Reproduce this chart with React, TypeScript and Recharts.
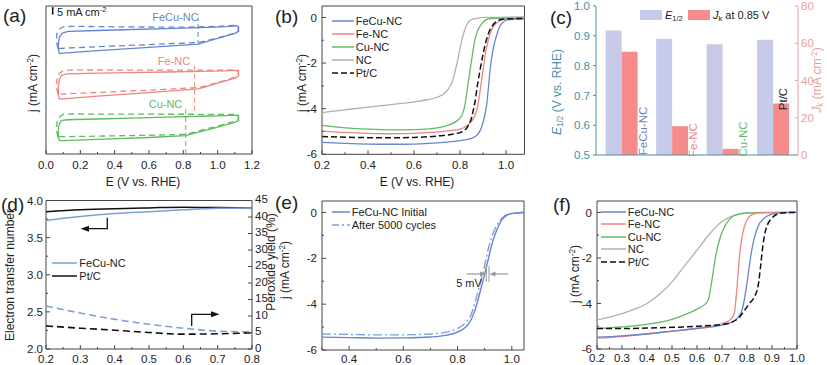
import React from "react";
import {
  LineChart,
  Line,
  XAxis,
  YAxis,
  ReferenceLine,
  ReferenceArea,
  BarChart,
  Bar,
} from "recharts";

const W = 827;
const H = 365;
const FONT = '"Liberation Sans", Arial, Helvetica, sans-serif';
const INK = "#222";
const FRAME = "#444";
const BLUE = "#6586cf";
const LIGHT_BLUE = "#7f9fda";
const RED = "#ec8682";
const GREEN = "#62ba62";
const GRAY = "#b0b0b0";
const TEAL = "#4a8fa3";
const PINK = "#e8a09c";
const LAVENDER = "#c8cae9";
const SALMON = "#f58b8b";

// ---- (a) CV loops, E (V) vs j (offset, mA cm-2 units) ----
const aFeCu = [[0.078, 88.8], [0.072, 93], [0.073, 99], [0.08, 104], [0.095, 107], [0.13, 108.5], [0.3, 109.3], [0.5, 110.2], [0.7, 111], [0.9, 111.8], [1.05, 112.8], [1.11, 113.5], [1.122, 112.5], [1.122, 108.5], [1.1, 106.8], [1.04, 104.2], [0.98, 101.5], [0.93, 99.2], [0.886, 97.3], [0.6, 94.3], [0.3, 91.5], [0.1, 89.2], [0.078, 88.8]];
const aFeCuDash = [[0.07, 93.5], [0.062, 99], [0.063, 106], [0.075, 110.5], [0.1, 112.6], [0.15, 113], [0.4, 112.6], [0.7, 112.3], [0.88, 112.4], [1.0, 113], [1.1, 113.8], [1.12, 113.3], [1.12, 109], [1.1, 107], [1.04, 104.5], [0.98, 102], [0.93, 100], [0.89, 98.8], [0.6, 96.8], [0.3, 95], [0.1, 93.6], [0.07, 93.5]];
const aFe = [[0.078, 48.5], [0.072, 52], [0.072, 60], [0.078, 66], [0.09, 69.5], [0.12, 71], [0.3, 71.6], [0.5, 72.1], [0.7, 72.6], [0.9, 73.1], [1.05, 73.6], [1.11, 74], [1.122, 73], [1.122, 69], [1.1, 67.2], [1.04, 64.5], [0.98, 61.8], [0.93, 59.5], [0.885, 57.6], [0.6, 54.3], [0.3, 51.2], [0.1, 48.8], [0.078, 48.5]];
const aFeDash = [[0.07, 53], [0.062, 58], [0.063, 65], [0.075, 71], [0.1, 73.8], [0.15, 74.4], [0.4, 74.3], [0.7, 74.2], [0.88, 74.2], [1.0, 74.3], [1.1, 74.5], [1.12, 74], [1.12, 70], [1.1, 68], [1.04, 65], [0.98, 62.5], [0.93, 60.3], [0.885, 58.8], [0.6, 56.5], [0.3, 54.5], [0.1, 53.1], [0.07, 53]];
const aCu = [[0.078, 11.8], [0.072, 15], [0.072, 22], [0.078, 27], [0.09, 29.5], [0.12, 30.3], [0.3, 31], [0.5, 31.8], [0.7, 32.6], [0.9, 33.4], [1.05, 34], [1.11, 34.4], [1.122, 33.5], [1.122, 29.5], [1.1, 28], [1.04, 25.5], [0.97, 22.5], [0.9, 19.8], [0.85, 17.8], [0.814, 16.3], [0.6, 14.6], [0.3, 12.9], [0.1, 11.9], [0.078, 11.8]];
const aCuDash = [[0.07, 15.3], [0.062, 20], [0.063, 27], [0.075, 32.5], [0.1, 35], [0.15, 35.4], [0.4, 35.3], [0.7, 35.2], [0.85, 35.2], [1.0, 35], [1.1, 35], [1.12, 34.5], [1.12, 30.5], [1.1, 29], [1.04, 26.5], [0.97, 23.5], [0.9, 20.8], [0.85, 18.8], [0.814, 17.4], [0.6, 16.6], [0.3, 15.8], [0.1, 15.3], [0.07, 15.3]];

// ---- (b) LSV in 0.1 M KOH ----
const bFeCu = [[0.2, -5.48], [0.3, -5.52], [0.4, -5.55], [0.5, -5.56], [0.6, -5.55], [0.7, -5.5], [0.8, -5.4], [0.85, -5.3], [0.875, -5.15], [0.89, -4.9], [0.9, -4.6], [0.91, -4.15], [0.916, -3.8], [0.923, -3.1], [0.93, -2.34], [0.94, -1.6], [0.95, -1.1], [0.957, -0.85], [0.97, -0.45], [0.988, -0.2], [1.0, -0.13], [1.03, -0.08], [1.08, -0.06]];
const bFe = [[0.2, -4.98], [0.3, -5.04], [0.4, -5.08], [0.5, -5.1], [0.6, -5.08], [0.7, -5.02], [0.8, -4.9], [0.83, -4.75], [0.85, -4.55], [0.865, -4.3], [0.875, -3.95], [0.88, -3.7], [0.89, -3.0], [0.9, -2.3], [0.91, -1.6], [0.92, -1.1], [0.935, -0.6], [0.95, -0.33], [0.97, -0.16], [0.99, -0.09], [1.08, -0.05]];
const bCu = [[0.2, -4.73], [0.3, -4.84], [0.4, -4.9], [0.5, -4.93], [0.6, -4.92], [0.7, -4.84], [0.75, -4.72], [0.78, -4.58], [0.8, -4.4], [0.81, -4.25], [0.822, -3.8], [0.832, -3.1], [0.843, -2.34], [0.855, -1.55], [0.865, -0.95], [0.878, -0.55], [0.894, -0.28], [0.91, -0.12], [0.93, -0.05], [1.08, -0.02]];
const bNC = [[0.2, -4.17], [0.3, -4.05], [0.4, -3.93], [0.5, -3.82], [0.6, -3.7], [0.65, -3.62], [0.7, -3.5], [0.73, -3.35], [0.75, -3.12], [0.765, -2.85], [0.78, -2.3], [0.79, -1.85], [0.8, -1.35], [0.81, -0.9], [0.82, -0.55], [0.83, -0.3], [0.85, -0.1], [0.88, -0.03], [0.9, 0], [1.08, 0.02]];
const bPtC = [[0.2, -5.22], [0.3, -5.25], [0.4, -5.27], [0.5, -5.28], [0.6, -5.26], [0.7, -5.2], [0.8, -5.05], [0.82, -4.95], [0.835, -4.75], [0.85, -4.4], [0.86, -3.95], [0.865, -3.7], [0.875, -3.0], [0.887, -2.3], [0.9, -1.6], [0.91, -1.15], [0.92, -0.8], [0.935, -0.45], [0.95, -0.25], [0.975, -0.1], [1.0, -0.06], [1.08, -0.05]];

// ---- (c) bars ----
const cCats = ["FeCu-NC", "Fe-NC", "Cu-NC", "Pt/C"];
const cE12 = [0.918, 0.89, 0.872, 0.887];
const cJk = [55.5, 15.5, 3.3, 27.6];

// ---- (d) RRDE ----
const dFeCuN = [[0.2, 3.73], [0.25, 3.76], [0.3, 3.785], [0.4, 3.825], [0.5, 3.85], [0.6, 3.875], [0.7, 3.895], [0.8, 3.9]];
const dPtCN = [[0.2, 3.85], [0.3, 3.875], [0.4, 3.89], [0.5, 3.9], [0.6, 3.91], [0.7, 3.905], [0.8, 3.9]];
const dFeCuH2O2 = [[0.2, 13], [0.3, 10.9], [0.4, 9], [0.5, 7.5], [0.6, 6.3], [0.65, 5.8], [0.7, 5.4], [0.8, 5.2]];
const dPtCH2O2 = [[0.2, 7], [0.3, 6.3], [0.4, 5.7], [0.5, 5.0], [0.6, 4.5], [0.7, 4.6], [0.8, 4.9]];

// ---- (e) stability ----
const eInitial = [[0.3, -5.44], [0.4, -5.46], [0.5, -5.48], [0.6, -5.47], [0.7, -5.43], [0.76, -5.35], [0.8, -5.22], [0.83, -5.0], [0.85, -4.68], [0.87, -4.05], [0.88, -3.6], [0.89, -3.15], [0.9, -2.7], [0.91, -2.2], [0.92, -1.7], [0.93, -1.25], [0.945, -0.75], [0.96, -0.38], [0.98, -0.14], [1.0, -0.04], [1.045, 0]];
const eAfter = [[0.3, -5.3], [0.4, -5.32], [0.5, -5.34], [0.6, -5.34], [0.7, -5.3], [0.76, -5.22], [0.8, -5.06], [0.83, -4.8], [0.85, -4.45], [0.865, -3.9], [0.88, -3.25], [0.89, -2.8], [0.9, -2.3], [0.91, -1.75], [0.92, -1.3], [0.935, -0.8], [0.95, -0.45], [0.97, -0.18], [0.99, -0.07], [1.045, 0]];

// ---- (f) LSV in acid ----
const fFeCu = [[0.2, -5.48], [0.3, -5.42], [0.4, -5.33], [0.5, -5.22], [0.6, -5.1], [0.7, -4.95], [0.74, -4.82], [0.765, -4.6], [0.78, -4.3], [0.79, -3.8], [0.8, -3.1], [0.81, -2.3], [0.82, -1.6], [0.83, -1.1], [0.845, -0.6], [0.87, -0.25], [0.9, -0.08], [0.93, -0.02], [1.0, 0]];
const fFe = [[0.2, -5.52], [0.3, -5.45], [0.4, -5.35], [0.5, -5.22], [0.6, -5.08], [0.7, -4.88], [0.735, -4.7], [0.75, -4.4], [0.755, -3.9], [0.76, -3.3], [0.765, -2.6], [0.77, -1.9], [0.78, -1.1], [0.79, -0.6], [0.8, -0.32], [0.82, -0.1], [0.85, -0.02], [1.0, 0]];
const fCu = [[0.2, -5.1], [0.3, -5.03], [0.4, -4.92], [0.5, -4.7], [0.55, -4.5], [0.6, -4.25], [0.63, -4.05], [0.645, -3.85], [0.655, -3.3], [0.665, -2.6], [0.675, -1.9], [0.69, -1.2], [0.705, -0.75], [0.72, -0.45], [0.74, -0.2], [0.77, -0.07], [0.8, -0.02], [1.0, 0]];
const fNC = [[0.2, -4.72], [0.25, -4.6], [0.3, -4.45], [0.35, -4.25], [0.4, -4.0], [0.45, -3.6], [0.5, -3.05], [0.55, -2.35], [0.6, -1.66], [0.65, -0.95], [0.7, -0.4], [0.75, -0.12], [0.8, -0.03], [0.85, 0], [1.0, 0]];
const fPtC = [[0.2, -5.1], [0.3, -5.1], [0.4, -5.08], [0.5, -5.05], [0.6, -5.0], [0.7, -4.92], [0.74, -4.82], [0.77, -4.6], [0.79, -4.3], [0.81, -4.0], [0.83, -3.7], [0.845, -3.2], [0.855, -2.3], [0.862, -1.6], [0.87, -1.0], [0.88, -0.6], [0.9, -0.25], [0.92, -0.08], [0.95, -0.02], [1.0, 0]];

// ---- ticks ----
const aXTicks = [0, 0.1, 0.2, 0.3, 0.4, 0.5, 0.6, 0.7, 0.8, 0.9, 1.0, 1.1, 1.2];
const aXLabels = [0, 0.2, 0.4, 0.6, 0.8, 1.0, 1.2];
const bXTicks = [0.2, 0.3, 0.4, 0.5, 0.6, 0.7, 0.8, 0.9, 1.0];
const bXLabels = [0.2, 0.4, 0.6, 0.8, 1.0];
const jTicks = [-6, -5, -4, -3, -2, -1, 0];
const jLabels = [-6, -4, -2, 0];
const cELabels = [0.5, 0.6, 0.7, 0.8, 0.9, 1.0];
const cJLabels = [0, 20, 40, 60, 80];
const dXTicks = [0.2, 0.25, 0.3, 0.35, 0.4, 0.45, 0.5, 0.55, 0.6, 0.65, 0.7, 0.75, 0.8];
const dXLabels = [0.2, 0.3, 0.4, 0.5, 0.6, 0.7, 0.8];
const dNTicks = [2, 2.25, 2.5, 2.75, 3, 3.25, 3.5, 3.75, 4];
const dNLabels = [2, 2.5, 3, 3.5, 4];
const dPLabels = [0, 5, 10, 15, 20, 25, 30, 35, 40, 45];
const eXTicks = [0.3, 0.4, 0.5, 0.6, 0.7, 0.8, 0.9, 1.0];
const eXLabels = [0.4, 0.6, 0.8, 1.0];
const fXTicks = [0.2, 0.25, 0.3, 0.35, 0.4, 0.45, 0.5, 0.55, 0.6, 0.65, 0.7, 0.75, 0.8, 0.85, 0.9, 0.95, 1.0];
const fXLabels = [0.2, 0.3, 0.4, 0.5, 0.6, 0.7, 0.8, 0.9, 1.0];

const pts = (a: number[][]) => a.map(([x, y]) => ({ x, y }));

type Box = { l: number; t: number; r: number; b: number };
const boxA: Box = { l: 46, t: 6, r: 252, b: 154 };
const boxB: Box = { l: 322, t: 6, r: 524.5, b: 154.3 };
const boxC: Box = { l: 596, t: 6, r: 798, b: 155 };
const boxD: Box = { l: 46, t: 200.5, r: 252, b: 349 };
const boxE: Box = { l: 322, t: 201, r: 524, b: 350 };
const boxF: Box = { l: 597, t: 201, r: 797, b: 349 };
// axes are 1px thick (a 0-size axis is not drawn), so the margins leave room for them
const margin = (p: Box, rightAxis = false) => ({
  left: p.l - 1,
  top: p.t,
  right: W - p.r - (rightAxis ? 1 : 0),
  bottom: H - p.b - 1,
});

const layer: React.CSSProperties = { position: "absolute", left: 0, top: 0 };

const f1 = (v: number) => v.toFixed(1);
const f0 = (v: number) => String(v);

type Side = "bottom" | "left" | "right";
const near = (list: number[], v: number) => list.some((m) => Math.abs(m - v) < 1e-6);

// custom tick: short inward tick marks, labels only on major values
function tickFn(
  side: Side,
  labels: number[],
  fmt: (v: number) => string,
  o: { color?: string; line?: string; gap?: number; inward?: boolean; len?: number; dy?: string } = {}
) {
  const { color = INK, line = FRAME, gap = 4, inward = true, len = 4, dy = "0.36em" } = o;
  return (p: any) => {
    const { x, y, payload } = p;
    const v = payload.value as number;
    const major = near(labels, v);
    const l = (major ? len : len / 2) * (inward ? 1 : -1);
    if (side === "bottom") {
      return (
        <g>
          <line x1={x} x2={x} y1={y} y2={y - l} stroke={line} />
          {major && (
            <text x={x} y={y + gap} textAnchor="middle" fontSize={11.5} fill={color} fontFamily={FONT}>
              {fmt(v)}
            </text>
          )}
        </g>
      );
    }
    const dir = side === "left" ? 1 : -1;
    return (
      <g>
        <line x1={x} x2={x + dir * l} y1={y} y2={y} stroke={line} />
        {major && (
          <text
            x={x - dir * gap}
            y={y}
            dy={dy}
            textAnchor={side === "left" ? "end" : "start"}
            fontSize={11.5}
            fill={color}
            fontFamily={FONT}
          >
            {fmt(v)}
          </text>
        )}
      </g>
    );
  };
}

const Sup = ({ children }: { children: React.ReactNode }) => (
  <span style={{ fontSize: "0.68em", position: "relative", top: "-0.5em" }}>{children}</span>
);
const Sub = ({ children }: { children: React.ReactNode }) => (
  <span style={{ fontSize: "0.68em", position: "relative", top: "0.3em" }}>{children}</span>
);

const Txt = ({
  x,
  y,
  children,
  size = 12,
  color = INK,
  rot = false,
  anchor = "start",
}: {
  x: number;
  y: number;
  children: React.ReactNode;
  size?: number;
  color?: string;
  rot?: boolean;
  anchor?: "start" | "middle" | "end";
}) => {
  const tx = anchor === "middle" ? "-50%" : anchor === "end" ? "-100%" : "0";
  return (
    <div
      style={{
        position: "absolute",
        left: x,
        top: y,
        transform: rot ? "translate(-50%,-50%) rotate(-90deg)" : `translate(${tx},-50%)`,
        fontSize: size,
        color,
        whiteSpace: "nowrap",
        lineHeight: 1,
      }}
    >
      {children}
    </div>
  );
};

const Key = ({ x, y, len, color, dash, label }: { x: number; y: number; len: number; color: string; dash?: string; label: string }) => (
  <div style={{ position: "absolute", left: x, top: y - 7, height: 14, display: "flex", alignItems: "center", fontSize: 11, whiteSpace: "nowrap" }}>
    <svg width={len} height={4} style={{ display: "block" }}>
      <line x1={0} x2={len} y1={2} y2={2} stroke={color} strokeWidth={1.5} strokeDasharray={dash} />
    </svg>
    <span style={{ marginLeft: 2 }}>{label}</span>
  </div>
);

const xAxisProps = { type: "number" as const, dataKey: "x", tickLine: false, axisLine: false, tickSize: 0, tickMargin: 0, height: 1, interval: 0 as const, allowDataOverflow: true };
const yAxisProps = { type: "number" as const, tickLine: false, axisLine: false, tickSize: 0, tickMargin: 0, width: 1, interval: 0 as const, allowDataOverflow: true };
const lineProps = { type: "monotone" as const, dataKey: "y", dot: false, activeDot: false, isAnimationActive: false, strokeWidth: 1.3 };

const PanelA = () => (
  <div style={layer}>
    <LineChart width={W} height={H} margin={margin(boxA)}>
      <XAxis {...xAxisProps} domain={[0, 1.2]} ticks={aXTicks} tick={tickFn("bottom", aXLabels, f1, { gap: 15 })} />
      <YAxis {...yAxisProps} domain={[0, 131]} tick={false} />
      <ReferenceArea x1={0} x2={1.2} y1={0} y2={131} fill="none" stroke={FRAME} />
      <Line {...lineProps} type="linear" data={pts(aFeCu)} stroke={BLUE} />
      <Line {...lineProps} type="linear" data={pts(aFeCuDash)} stroke={BLUE} strokeDasharray="6 4" />
      <Line {...lineProps} type="linear" data={pts(aFe)} stroke={RED} />
      <Line {...lineProps} type="linear" data={pts(aFeDash)} stroke={RED} strokeDasharray="6 4" />
      <Line {...lineProps} type="linear" data={pts(aCu)} stroke={GREEN} />
      <Line {...lineProps} type="linear" data={pts(aCuDash)} stroke={GREEN} strokeDasharray="6 4" />
      <ReferenceLine segment={[{ x: 0.886, y: 96.5 }, { x: 0.886, y: 120.6 }]} stroke={BLUE} strokeDasharray="5 3" />
      <ReferenceLine segment={[{ x: 0.866, y: 38.2 }, { x: 0.866, y: 80 }]} stroke={RED} strokeDasharray="5 3" />
      <ReferenceLine segment={[{ x: 0.814, y: 0 }, { x: 0.814, y: 39.7 }]} stroke={GREEN} strokeDasharray="5 3" />
      <ReferenceLine segment={[{ x: 0.039, y: 124 }, { x: 0.039, y: 129.4 }]} stroke="#111" strokeWidth={1.5} />
      <ReferenceLine segment={[{ x: 0.033, y: 124 }, { x: 0.045, y: 124 }]} stroke="#111" />
      <ReferenceLine segment={[{ x: 0.033, y: 129.4 }, { x: 0.045, y: 129.4 }]} stroke="#111" />
    </LineChart>
  </div>
);

const PanelB = () => (
  <div style={layer}>
    <LineChart width={W} height={H} margin={margin(boxB)}>
      <XAxis {...xAxisProps} domain={[0.2, 1.08]} ticks={bXTicks} tick={tickFn("bottom", bXLabels, f1, { gap: 15 })} />
      <YAxis {...yAxisProps} domain={[-6, 0.5]} ticks={jTicks} tick={tickFn("left", jLabels, f0, { gap: 5 })} />
      <ReferenceArea x1={0.2} x2={1.08} y1={-6} y2={0.5} fill="none" stroke={FRAME} />
      <Line {...lineProps} data={pts(bNC)} stroke={GRAY} />
      <Line {...lineProps} data={pts(bCu)} stroke={GREEN} />
      <Line {...lineProps} data={pts(bFe)} stroke={RED} />
      <Line {...lineProps} data={pts(bFeCu)} stroke={BLUE} />
      <Line {...lineProps} data={pts(bPtC)} stroke="#111" strokeDasharray="6 3" strokeWidth={1.5} />
    </LineChart>
  </div>
);

const cData = cCats.map((name, i) => ({ name, e: cE12[i], jk: cJk[i] }));

const PanelC = () => (
  <div style={layer}>
    <BarChart width={W} height={H} margin={margin(boxC, true)} data={cData} barCategoryGap="19%" barGap={0}>
      <XAxis dataKey="name" tick={false} tickLine={false} height={1} axisLine={{ stroke: TEAL }} />
      <YAxis
        yAxisId="e"
        {...yAxisProps}
        axisLine={{ stroke: TEAL }}
        domain={[0.5, 1.0]}
        ticks={cELabels}
        tick={tickFn("left", cELabels, f1, { color: TEAL, line: TEAL, gap: 6, inward: false, len: 3 })}
      />
      <YAxis
        yAxisId="j"
        orientation="right"
        {...yAxisProps}
        axisLine={{ stroke: PINK }}
        domain={[0, 80]}
        ticks={cJLabels}
        tick={tickFn("right", cJLabels, f0, { color: PINK, line: PINK, gap: 3, inward: true, len: 3 })}
      />
      <Bar yAxisId="e" dataKey="e" fill={LAVENDER} isAnimationActive={false} />
      <Bar yAxisId="j" dataKey="jk" fill={SALMON} isAnimationActive={false} />
    </BarChart>
  </div>
);

const PanelD = () => (
  <div style={layer}>
    <LineChart width={W} height={H} margin={margin(boxD, true)}>
      <XAxis {...xAxisProps} domain={[0.2, 0.8]} ticks={dXTicks} tick={tickFn("bottom", dXLabels, f1, { gap: 14 })} />
      <YAxis yAxisId="n" {...yAxisProps} domain={[2, 4]} ticks={dNTicks} tick={tickFn("left", dNLabels, f1, { gap: 3 })} />
      <YAxis yAxisId="p" orientation="right" {...yAxisProps} domain={[0, 45]} ticks={dPLabels} tick={tickFn("right", dPLabels, f0, { gap: 3, dy: "0.22em" })} />
      <ReferenceArea yAxisId="n" x1={0.2} x2={0.8} y1={2} y2={4} fill="none" stroke={FRAME} />
      <Line {...lineProps} yAxisId="n" data={pts(dPtCN)} stroke="#111" strokeWidth={1.5} />
      <Line {...lineProps} yAxisId="n" data={pts(dFeCuN)} stroke={LIGHT_BLUE} strokeWidth={1.5} />
      <Line {...lineProps} yAxisId="p" data={pts(dFeCuH2O2)} stroke={LIGHT_BLUE} strokeWidth={1.6} strokeDasharray="7 4" />
      <Line {...lineProps} yAxisId="p" data={pts(dPtCH2O2)} stroke="#111" strokeWidth={1.6} strokeDasharray="7 4" />
    </LineChart>
  </div>
);

const PanelE = () => (
  <div style={layer}>
    <LineChart width={W} height={H} margin={margin(boxE)}>
      <XAxis {...xAxisProps} domain={[0.3, 1.045]} ticks={eXTicks} tick={tickFn("bottom", eXLabels, f1, { gap: 13 })} />
      <YAxis {...yAxisProps} domain={[-6, 0.5]} ticks={jTicks} tick={tickFn("left", jLabels, f0, { gap: 5 })} />
      <ReferenceArea x1={0.3} x2={1.045} y1={-6} y2={0.5} fill="none" stroke={FRAME} />
      <Line {...lineProps} data={pts(eAfter)} stroke={LIGHT_BLUE} strokeWidth={1.4} strokeDasharray="9 3 2 3" />
      <Line {...lineProps} data={pts(eInitial)} stroke={BLUE} strokeWidth={1.4} />
    </LineChart>
  </div>
);

const PanelF = () => (
  <div style={layer}>
    <LineChart width={W} height={H} margin={margin(boxF)}>
      <XAxis {...xAxisProps} domain={[0.2, 1.0]} ticks={fXTicks} tick={tickFn("bottom", fXLabels, f1, { gap: 13 })} />
      <YAxis {...yAxisProps} domain={[-6, 0.5]} ticks={jTicks} tick={tickFn("left", jLabels, f0, { gap: 5 })} />
      <ReferenceArea x1={0.2} x2={1.0} y1={-6} y2={0.5} fill="none" stroke={FRAME} />
      <Line {...lineProps} data={pts(fNC)} stroke={GRAY} />
      <Line {...lineProps} data={pts(fCu)} stroke={GREEN} />
      <Line {...lineProps} data={pts(fFe)} stroke={RED} />
      <Line {...lineProps} data={pts(fFeCu)} stroke={BLUE} />
      <Line {...lineProps} data={pts(fPtC)} stroke="#111" strokeDasharray="6 3" strokeWidth={1.5} />
    </LineChart>
  </div>
);

const jUnit = (
  <>
    j (mA cm<Sup>-2</Sup>)
  </>
);

const Arrows = () => (
  <svg width={W} height={H} style={layer}>
    {/* (d) axis pointers */}
    <polyline points="107.3,217.7 107.3,228.7 88,228.7" fill="none" stroke="#111" strokeWidth={1.3} />
    <polygon points="80.5,228.7 89,225.7 89,231.7" fill="#111" />
    <polyline points="191.7,326 191.7,314.3 211,314.3" fill="none" stroke="#111" strokeWidth={1.3} />
    <polygon points="219.5,314.3 211,311.3 211,317.3" fill="#111" />
    {/* (e) 5 mV shift */}
    <line x1={486.3} x2={486.3} y1={266} y2={282} stroke="#999" />
    <line x1={489} x2={489} y1={266} y2={282} stroke="#999" />
    <line x1={466.7} x2={481} y1={274} y2={274} stroke="#999" strokeWidth={1.2} />
    <polygon points="486,274 480,271.5 480,276.5" fill="#999" />
    <line x1={508.3} x2={494.5} y1={274} y2={274} stroke="#999" strokeWidth={1.2} />
    <polygon points="489.5,274 495.5,271.5 495.5,276.5" fill="#999" />
  </svg>
);

export default function App() {
  return (
    <div style={{ position: "relative", width: W, height: H, fontFamily: FONT, color: INK, background: "#fff", overflow: "hidden" }}>
      <style>{"body{margin:0}"}</style>
      <PanelA />
      <PanelB />
      <PanelC />
      <PanelD />
      <PanelE />
      <PanelF />
      <Arrows />

      {/* panel letters */}
      <Txt x={3} y={15} size={19}>(a)</Txt>
      <Txt x={275} y={16} size={19}>(b)</Txt>
      <Txt x={550} y={16.5} size={19}>(c)</Txt>
      <Txt x={1} y={204} size={19}>(d)</Txt>
      <Txt x={275} y={202} size={19}>(e)</Txt>
      <Txt x={553} y={204} size={19}>(f)</Txt>

      {/* (a) */}
      <Txt x={57} y={11.5} size={11}>5 mA cm<Sup>-2</Sup></Txt>
      <Txt x={175.5} y={17} size={11} color={BLUE} anchor="middle">FeCu-NC</Txt>
      <Txt x={174} y={60.5} size={11} color={RED} anchor="middle">Fe-NC</Txt>
      <Txt x={165.5} y={104} size={11} color={GREEN} anchor="middle">Cu-NC</Txt>
      <Txt x={33} y={83} rot>{jUnit}</Txt>
      <Txt x={143} y={182} anchor="middle">E (V vs. RHE)</Txt>

      {/* (b) */}
      <Txt x={301.5} y={83} rot>{jUnit}</Txt>
      <Txt x={417} y={182} anchor="middle">E (V vs. RHE)</Txt>
      <Key x={331.7} y={20.7} len={22} color={BLUE} label="FeCu-NC" />
      <Key x={331.7} y={34} len={22} color={RED} label="Fe-NC" />
      <Key x={331.7} y={46.7} len={22} color={GREEN} label="Cu-NC" />
      <Key x={331.7} y={59.7} len={22} color={GRAY} label="NC" />
      <Key x={331.7} y={73.3} len={22} color="#111" dash="6 3" label="Pt/C" />

      {/* (c) */}
      <div style={{ position: "absolute", left: 640, top: 10, width: 22, height: 10, background: LAVENDER }} />
      <Txt x={665} y={15} size={11}><i>E</i><Sub>1/2</Sub></Txt>
      <div style={{ position: "absolute", left: 688, top: 10, width: 22, height: 10, background: SALMON }} />
      <Txt x={713} y={15} size={11}><i>J</i><Sub>k</Sub> at 0.85 V</Txt>
      <Txt x={557} y={92} rot color={TEAL}><i>E</i><Sub>1/2</Sub> (V vs. RHE)</Txt>
      <Txt x={816.5} y={80} rot color={PINK}><i>J</i><Sub>k</Sub> (mA cm<Sup>-2</Sup>)</Txt>
      <Txt x={643.5} y={131} rot size={11.5} color="#6f7fbf">FeCu-NC</Txt>
      <Txt x={693.5} y={140} rot size={11.5} color={RED}>Fe-NC</Txt>
      <Txt x={744} y={139} rot size={11.5} color={GREEN}>Cu-NC</Txt>
      <Txt x={783.5} y={99} rot size={11.5}>Pt/C</Txt>

      {/* (d) */}
      <Txt x={9.5} y={275} rot>Electron transfer number</Txt>
      <Txt x={271} y={262} rot>Peroxide yield (%)</Txt>
      <Key x={52.3} y={262.7} len={25} color={LIGHT_BLUE} label="FeCu-NC" />
      <Key x={52.3} y={276} len={25} color="#111" label="Pt/C" />

      {/* (e) */}
      <Txt x={285} y={270} rot>{jUnit}</Txt>
      <Key x={331.7} y={212} len={18} color={BLUE} label="FeCu-NC Initial" />
      <Key x={331.7} y={224.7} len={18} color={LIGHT_BLUE} dash="7 3 2 3" label="After 5000 cycles" />
      <Txt x={469} y={283} size={11} anchor="middle">5 mV</Txt>

      {/* (f) */}
      <Txt x={575} y={274} rot>{jUnit}</Txt>
      <Key x={600.7} y={211.7} len={25} color={BLUE} label="FeCu-NC" />
      <Key x={600.7} y={224} len={25} color={RED} label="Fe-NC" />
      <Key x={600.7} y={236.7} len={25} color={GREEN} label="Cu-NC" />
      <Key x={600.7} y={249.3} len={25} color={GRAY} label="NC" />
      <Key x={600.7} y={261.7} len={25} color="#111" dash="6 3" label="Pt/C" />
    </div>
  );
}
